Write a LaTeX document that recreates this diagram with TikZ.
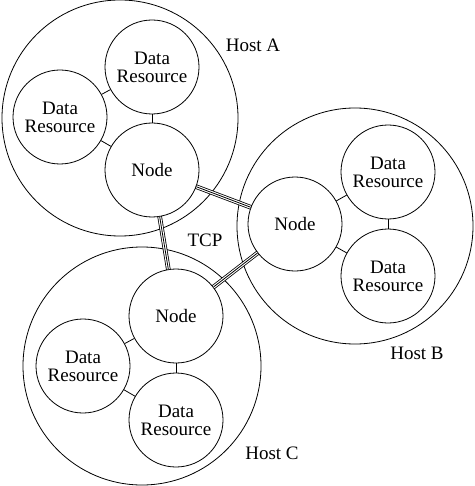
\documentclass[tikz,border=0pt]{standalone}
\usepackage{fontspec}
\setmainfont{Liberation Serif}
\begin{document}
\begin{tikzpicture}[x=1pt,y=-1pt,
  hostc/.style={circle,draw,line width=0.8pt,minimum size=#1,inner sep=0pt},
  inner/.style={circle,draw,line width=0.8pt,minimum size=94pt,inner sep=0pt,align=center,font=\fontsize{19}{18}\selectfont},
  lbl/.style={font=\fontsize{19}{18}\selectfont,inner sep=0pt},
  link/.style={line width=0.8pt},
  tcpout/.style={line width=4.6pt,black,shorten <=-0.5pt,shorten >=-0.5pt},
  tcpin/.style={line width=3.0pt,white},
  tcpmid/.style={line width=0.8pt,black}]
\useasboundingbox (0,0) rectangle (474,486);
% hosts
\node[hostc=236pt] (hA) at (120,118) {};
\node[hostc=236pt] (hB) at (355,226) {};
\node[hostc=238pt] (hC) at (142,366) {};
% host A
\node[inner] (drA1) at (152,67) {Data\\Resource};
\node[inner] (drA2) at (60,117) {Data\\Resource};
\node[inner] (nA) at (152,170) {Node};
% host B
\node[inner] (nB) at (295,224) {Node};
\node[inner] (drB1) at (388,172) {Data\\Resource};
\node[inner] (drB2) at (388,276) {Data\\Resource};
% host C
\node[inner] (nC) at (176,316) {Node};
\node[inner] (drC1) at (83,366) {Data\\Resource};
\node[inner] (drC2) at (176,420) {Data\\Resource};
% local links
\draw[link] (drA1) -- (nA);
\draw[link] (drA2) -- (nA);
\draw[link] (drA1) -- (drA2);
\draw[link] (drB1) -- (nB);
\draw[link] (drB2) -- (nB);
\draw[link] (drB1) -- (drB2);
\draw[link] (drC1) -- (nC);
\draw[link] (drC2) -- (nC);
\draw[link] (drC1) -- (drC2);
% TCP links
\foreach \a/\b in {nA/nB,nA/nC,nC/nB}{
  \draw[tcpout] (\a) -- (\b);
  \draw[tcpin] (\a) -- (\b);
  \draw[tcpmid] (\a) -- (\b);
}
% labels
\node[lbl] (lA) at (253,45) {Host A};
\node[lbl] (lB) at (417,353) {Host B};
\node[lbl] (lC) at (272,453) {Host C};
\node[lbl] (tcp) at (205,240) {TCP};
\end{tikzpicture}
\end{document}
